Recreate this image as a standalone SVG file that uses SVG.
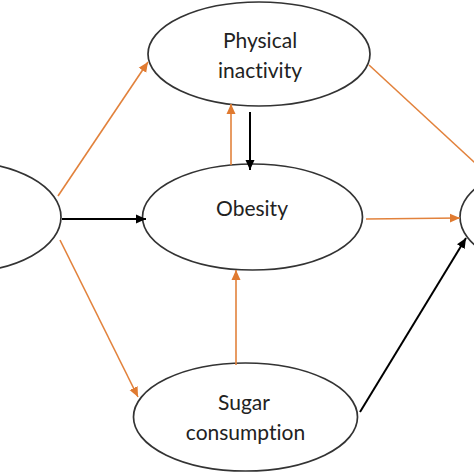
<svg xmlns="http://www.w3.org/2000/svg" width="474" height="474" viewBox="0 0 474 474">
<style>
.node ellipse{fill:#fff;stroke:#333;stroke-width:1.7}
.node text{font-family:Lato,"Open Sans",sans-serif;font-size:21px;fill:#222;text-anchor:middle;font-variant-ligatures:none;font-feature-settings:"liga" 0,"clig" 0}
.or{stroke:#E2823C;stroke-width:1.6;fill:none;marker-end:url(#ah-or)}
.bk{stroke:#000;stroke-width:2;fill:none;marker-end:url(#ah-bk)}
</style>
<defs>
<marker id="ah-or" viewBox="0 0 10 10" refX="10" refY="5" markerWidth="10" markerHeight="10" markerUnits="userSpaceOnUse" orient="auto"><path d="M0,0.5 L10,5 L0,9.5 z" fill="#E07A30"/></marker>
<marker id="ah-bk" viewBox="0 0 10 10" refX="10" refY="5" markerWidth="10" markerHeight="10" markerUnits="userSpaceOnUse" orient="auto"><path d="M0,0.5 L10,5 L0,9.5 z" fill="#000"/></marker>
</defs>
<rect width="474" height="474" fill="#fff"/>
<g id="node-left" class="node"><ellipse cx="-39" cy="217" rx="100" ry="55"/></g>
<g id="node-right" class="node"><ellipse cx="565" cy="217" rx="105" ry="55"/></g>
<g id="node-physical" class="node"><ellipse cx="259" cy="54" rx="111" ry="52"/><text x="260" y="48">Physical</text><text x="260" y="78">inactivity</text></g>
<g id="node-obesity" class="node"><ellipse cx="252.5" cy="217" rx="110" ry="53"/><text x="252" y="216">Obesity</text></g>
<g id="node-sugar" class="node"><ellipse cx="245.5" cy="417" rx="112" ry="54"/><text x="244" y="410">Sugar</text><text x="245.5" y="440">consumption</text></g>
<g id="connectors">
<line class="or" x1="58" y1="196" x2="148" y2="62"/>
<line class="bk" x1="62" y1="219" x2="146" y2="219"/>
<line class="or" x1="60" y1="240" x2="138" y2="397"/>
<line class="or" x1="231" y1="165" x2="231" y2="104"/>
<line class="bk" x1="250" y1="112" x2="250" y2="170"/>
<line class="or" x1="236" y1="365" x2="236" y2="270"/>
<line class="or" x1="366" y1="219" x2="460" y2="218"/>
<line class="or" x1="369" y1="65" x2="500" y2="186"/>
<line class="bk" x1="360" y1="412" x2="466" y2="238"/>
</g>
</svg>
